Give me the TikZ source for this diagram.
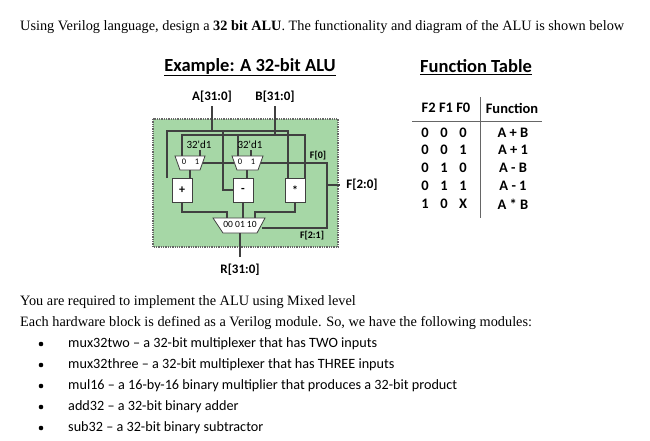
\documentclass[tikz,border=0pt]{standalone}
\usepackage{fontspec}
\setmainfont{Liberation Serif}
\newfontfamily\carl{Carlito}
\begin{document}
\begin{tikzpicture}[x=1pt,y=-1pt,
  w/.style={line width=1.1pt,draw=black!75},
  blk/.style={draw=black!75,fill=white,line width=0.8pt},
  dl/.style={font=\carl\bfseries\fontsize{13}{14}\selectfont,inner sep=0pt},
  sl/.style={font=\carl\fontsize{11}{12}\selectfont,inner sep=0pt},
  tx/.style={anchor=west,inner sep=0pt,font=\fontsize{14.3}{16}\selectfont},
  bx/.style={anchor=west,inner sep=0pt,font=\carl\fontsize{14.2}{16}\selectfont},
  tt/.style={font=\carl\bfseries\fontsize{14.5}{16}\selectfont,inner sep=0pt}]
\useasboundingbox (0,0) rectangle (650,440);
\fill[white] (0,0) rectangle (650,440);
\node[tx] (l0) at (20,27) {Using Verilog language, design a \textbf{32 bit ALU}. The functionality and diagram of the ALU is shown below};
% titles
\node[font=\carl\bfseries\fontsize{18.5}{20}\selectfont,inner sep=0pt] (t1) at (250,67) {\underline{Example: A 32-bit ALU}};
\node[font=\carl\bfseries\fontsize{18.5}{20}\selectfont,inner sep=0pt] (t2) at (476,67) {\underline{Function Table}};
% green box
\draw[fill=green!55!black!35!white,draw=black!60,densely dotted,line width=1.3pt] (153,119) rectangle (338,247);
\node[dl] (A) at (212,97) {A[31:0]};
\node[dl] (B) at (275,97) {B[31:0]};
% buses
\draw[w] (212,106) -- (212,131);
\draw[w] (275,106) -- (275,135);
\draw[w] (167,178) -- (167,131) -- (288,131) -- (288,178);
\draw[w] (223,131) -- (223,190) -- (233,190);
\draw[w] (182,157) -- (182,135) -- (305,135) -- (305,178);
\draw[w] (238,157) -- (238,135);
% constants
\node[sl] (c1) at (199,145) {32'd1};
\node[sl] (c2) at (250,145) {32'd1};
\draw[w] (200,150) -- (200,157);
\draw[w] (251,150) -- (251,157);
% muxes
\draw[blk] (175,156) -- (205,156) -- (200,170) -- (180,170) -- cycle;
\draw[blk] (232,156) -- (263,156) -- (258,170) -- (237,170) -- cycle;
\node[sl,font=\carl\fontsize{8.5}{9}\selectfont] at (184,162) {0};
\node[sl,font=\carl\fontsize{8.5}{9}\selectfont] at (197,162) {1};
\node[sl,font=\carl\fontsize{8.5}{9}\selectfont] at (240,162) {0};
\node[sl,font=\carl\fontsize{8.5}{9}\selectfont] at (253,162) {1};
\draw[w] (190,170) -- (190,178);
\draw[w] (247,170) -- (247,178);
% F0
\draw[w] (203,163) -- (234,163);
\draw[w] (261,163) -- (327,163) -- (327,228) -- (262,228);
\draw[w] (327,185) -- (340,185);
\node[dl] (F) at (362,185) {F[2:0]};
\node[dl,font=\carl\bfseries\fontsize{10}{11}\selectfont] at (318,156) {F[0]};
\node[dl,font=\carl\bfseries\fontsize{10}{11}\selectfont] at (312,236) {F[2:1]};
% boxes
\draw[blk] (172,178) rectangle (192,202) node[midway,font=\carl\bfseries\large] {+};
\draw[blk] (233,178) rectangle (253,202) node[midway,font=\carl\bfseries\large] {-};
\draw[blk] (285,178) rectangle (305,202) node[midway,font=\carl\bfseries\large] {*};
% mux3
\draw[w] (182,202) -- (182,212) -- (227,212) -- (227,218);
\draw[w] (243,202) -- (243,218);
\draw[w] (295,202) -- (295,212) -- (255,212) -- (255,218);
\draw[blk] (213,218) -- (265,218) -- (257,233) -- (223,233) -- cycle;
\node[sl,font=\carl\fontsize{9.5}{10}\selectfont] at (240,224) {00 01 10};
\draw[w] (240,233) -- (240,257);
\node[dl] (R) at (240,270) {R[31:0]};
% table
\draw[black!60,line width=0.6pt] (480,97) -- (480,218);
\draw[black!60,line width=0.6pt] (412,121) -- (542,121);
\node[tt] at (446,108) {F2 F1 F0};
\node[tt] at (512,108) {Function};
\foreach \y/\a/\b/\c/\f in {133/0/0/0/A + B,150/0/0/1/A + 1,168/0/1/0/A - B,186/0/1/1/A - 1,204/1/0/X/A * B}{
 \node[tt] at (425,\y) {\a}; \node[tt] at (444,\y) {\b}; \node[tt] at (463,\y) {\c};
 \node[tt] at (513,\y) {\f};}
% text
\node[tx] (p1) at (20,302) {You are required to implement the ALU using Mixed level};
\node[tx] (p2) at (20,323) {Each hardware block is defined as a Verilog module. So, we have the following modules:};
\foreach \y/\t in {344/mux32two – a 32-bit multiplexer that has TWO inputs,365/mux32three – a 32-bit multiplexer that has THREE inputs,386/mul16 – a 16-by-16 binary multiplier that produces a 32-bit product,407/add32 – a 32-bit binary adder,428/sub32 – a 32-bit binary subtractor}{
 \fill (41,\y) circle (2.3);
 \node[bx] at (68,\y) {\t};}
\end{tikzpicture}
\end{document}
